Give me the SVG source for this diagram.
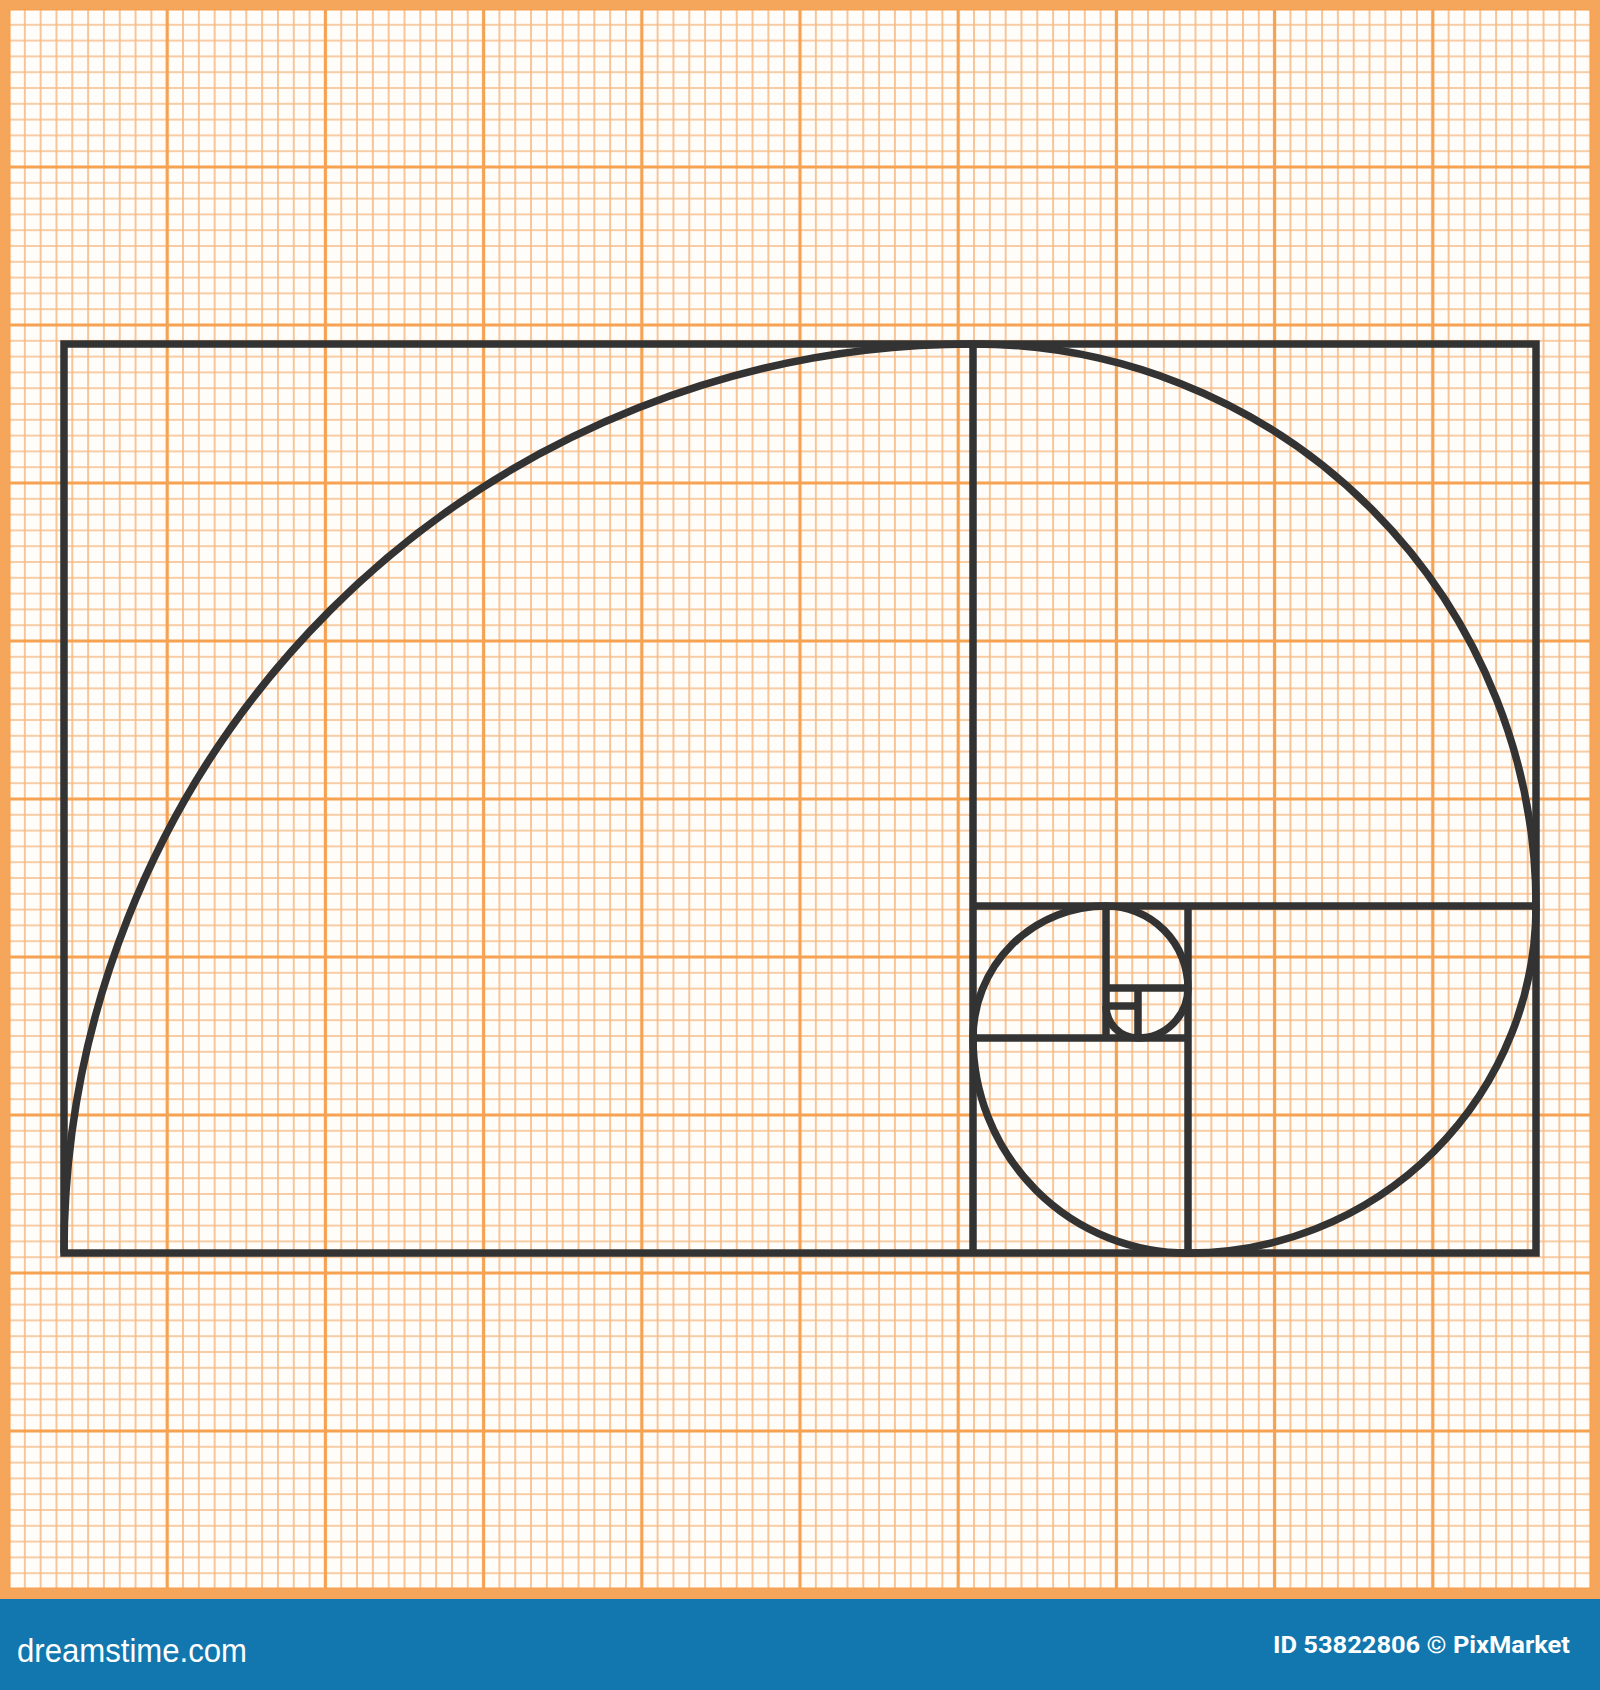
<svg xmlns="http://www.w3.org/2000/svg" width="1600" height="1690" viewBox="0 0 1600 1690">
  <style>
    .ink { fill: none; stroke: #333333; stroke-width: 7.5; stroke-linejoin: miter; }
    .banner-text { fill: #ffffff; }
  </style>
  <defs>
    <pattern id="minor" x="1.09" y="1.1" width="15.82" height="15.8" patternUnits="userSpaceOnUse">
      <path d="M7.91 0 V15.8 M0 7.9 H15.82" fill="none" stroke="#F6BC88" stroke-width="1.7"/>
    </pattern>
    <pattern id="major" x="-70.1" y="-70" width="158.2" height="158" patternUnits="userSpaceOnUse">
      <path d="M79.1 0 V158 M0 79 H158.2" fill="none" stroke="#F5A252" stroke-width="3.2"/>
    </pattern>
  </defs>

  <g id="paper">
    <rect x="0" y="0" width="1600" height="1599" fill="#F5A65A"/>
    <rect x="9" y="9" width="1582" height="1580" fill="#FFFDFA"/>
    <rect x="9" y="9" width="1582" height="1580" fill="url(#minor)"/>
    <rect x="9" y="9" width="1582" height="1580" fill="url(#major)"/>
  </g>

  <g id="golden-rectangle">
    <rect class="ink" x="64" y="344" width="1472" height="909"/>
  </g>

  <g id="divisions">
    <path class="ink" d="M973 344 V1253 M973 906 H1536 M1188 906 V1253 M973 1038 H1188 M1106 906 V1038 M1106 988 H1188 M1138 988 V1038 M1106 1006 H1138"/>
  </g>

  <g id="spiral">
    <path class="ink" d="M64 1253 A909 909 0 0 1 973 344 A563 562 0 0 1 1536 906 A348 347 0 0 1 1188 1253 A215 215 0 0 1 973 1038 A133 132 0 0 1 1106 906 A82 82 0 0 1 1188 988 A50 50 0 0 1 1138 1038 A32 32 0 0 1 1106 1006"/>
  </g>

  <g id="banner">
    <rect x="0" y="1599" width="1600" height="91" fill="#1177AE"/>
    <text class="banner-text" x="17" y="1662" font-family="'Liberation Sans', Arial, sans-serif" font-size="34" textLength="230" lengthAdjust="spacingAndGlyphs">dreamstime.com</text>
    <text class="banner-text" x="1273" y="1653" font-family="Roboto, 'Liberation Sans', sans-serif" font-size="24" font-weight="bold" textLength="297" lengthAdjust="spacingAndGlyphs">ID 53822806 © PixMarket</text>
  </g>
</svg>
